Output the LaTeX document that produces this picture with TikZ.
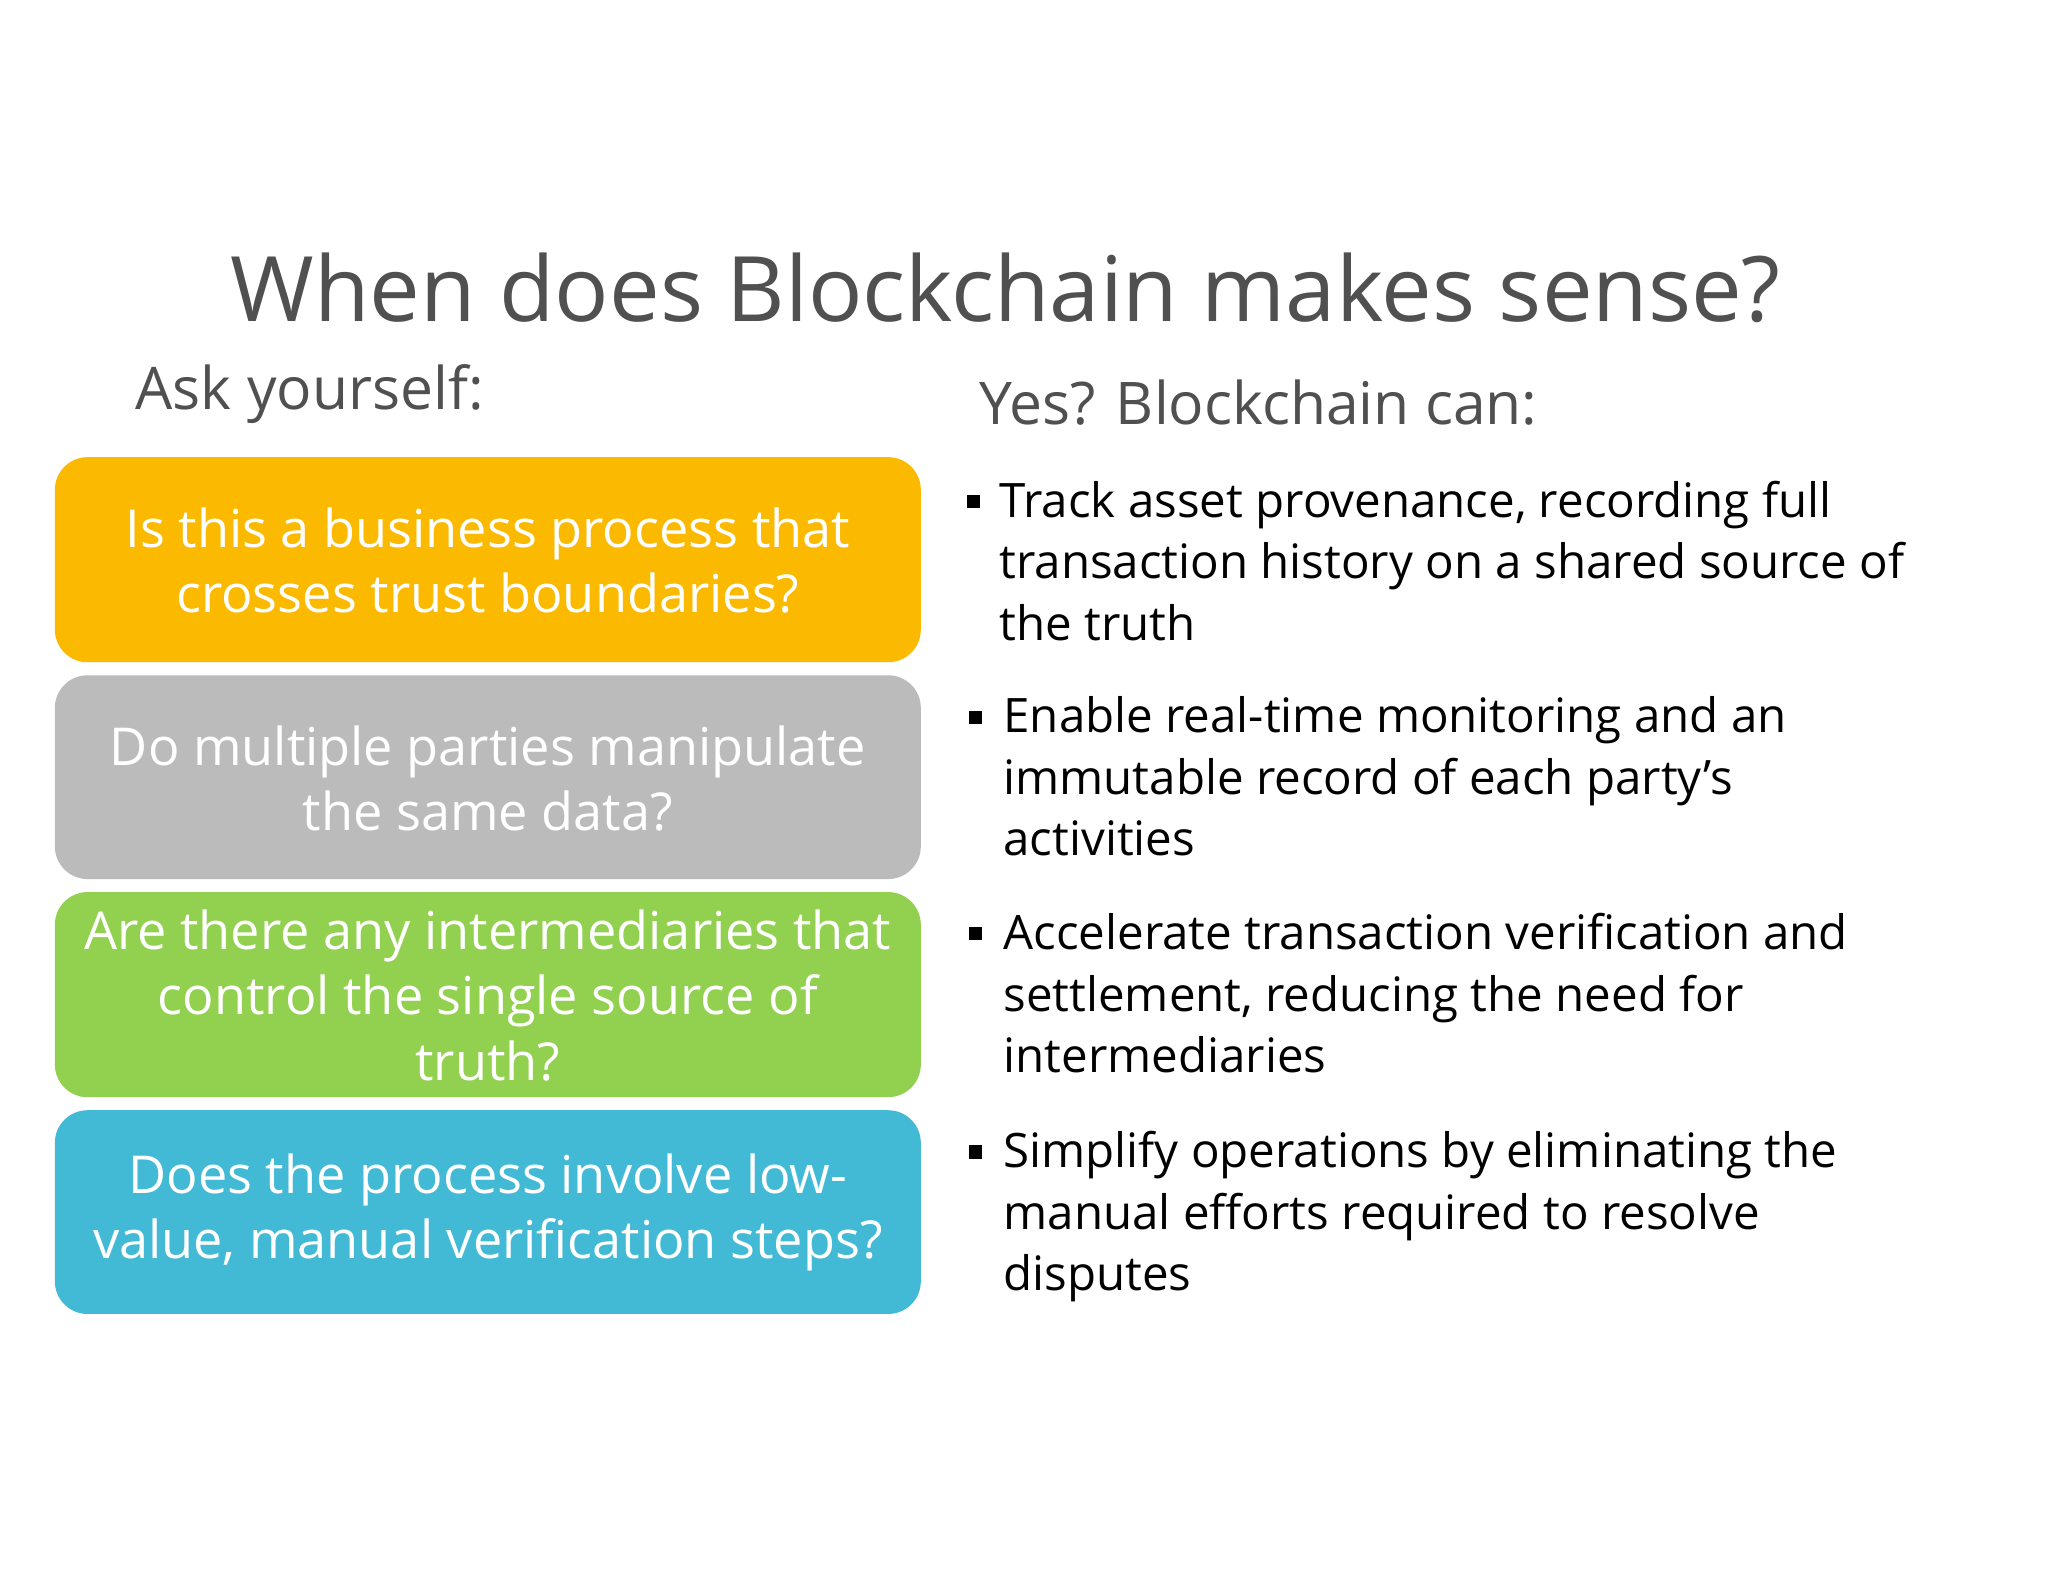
\documentclass[tikz,border=0pt]{standalone}
\usepackage{fontspec}
\setmainfont{Open Sans}
\definecolor{cor}{HTML}{FBB900}
\definecolor{cgr}{HTML}{BBBBBB}
\definecolor{cgn}{HTML}{92D050}
\definecolor{cbl}{HTML}{42BAD6}
\definecolor{ctt}{HTML}{505050}
\begin{document}
\begin{tikzpicture}[x=0.6pt,y=-0.6pt,
  qbox/.style={text=white,align=center,font=\fontsize{24}{30}\selectfont,inner sep=0pt},
  btxt/.style={anchor=north west,align=left,font=\fontsize{21.8}{28.2}\selectfont,inner sep=0pt},
  bul/.style={fill=black,minimum size=6pt,inner sep=0pt}]
\useasboundingbox (0,0) rectangle (1568,1212);
\fill[white] (0,0) rectangle (1568,1212);
\node[text=ctt,font=\fontsize{41.5}{46}\selectfont] (title) at (770,220) {When does Blockchain makes sense?};
\node[text=ctt,font=\fontsize{27}{32}\selectfont,anchor=west] (ask) at (98,302) {Ask yourself:};
\node[text=ctt,font=\fontsize{27}{32}\selectfont,anchor=west] (yes) at (744,308) {Yes? Blockchain can:};
\fill[cor,rounded corners=15pt] (42,350) rectangle (705,507);
\fill[cgr,rounded corners=15pt] (42,517) rectangle (705,673);
\fill[cgn,rounded corners=15pt] (42,683) rectangle (705,840);
\fill[cbl,rounded corners=15pt] (42,850) rectangle (705,1006);
\node[qbox] (q1) at (373.5,429) {Is this a business process that\\crosses trust boundaries?};
\node[qbox] (q2) at (373.5,596) {Do multiple parties manipulate\\the same data?};
\node[qbox] (q3) at (373.5,762) {Are there any intermediaries that\\control the single source of\\truth?};
\node[qbox] (q4) at (373.5,928) {Does the process involve low-\\value, manual verification steps?};
\node[bul] (b1) at (745,384) {};
\node[bul] (b2) at (747,549) {};
\node[bul] (b3) at (747,715) {};
\node[bul] (b4) at (747,882) {};
\node[btxt] (t1) at (765,368) {Track asset provenance, recording full\\transaction history on a shared source of\\the truth};
\node[btxt] (t2) at (768,533) {Enable real-time monitoring and an\\immutable record of each party’s\\activities};
\node[btxt] (t3) at (768,699) {Accelerate transaction verification and\\settlement, reducing the need for\\intermediaries};
\node[btxt] (t4) at (768,866) {Simplify operations by eliminating the\\manual efforts required to resolve\\disputes};
\end{tikzpicture}
\end{document}
